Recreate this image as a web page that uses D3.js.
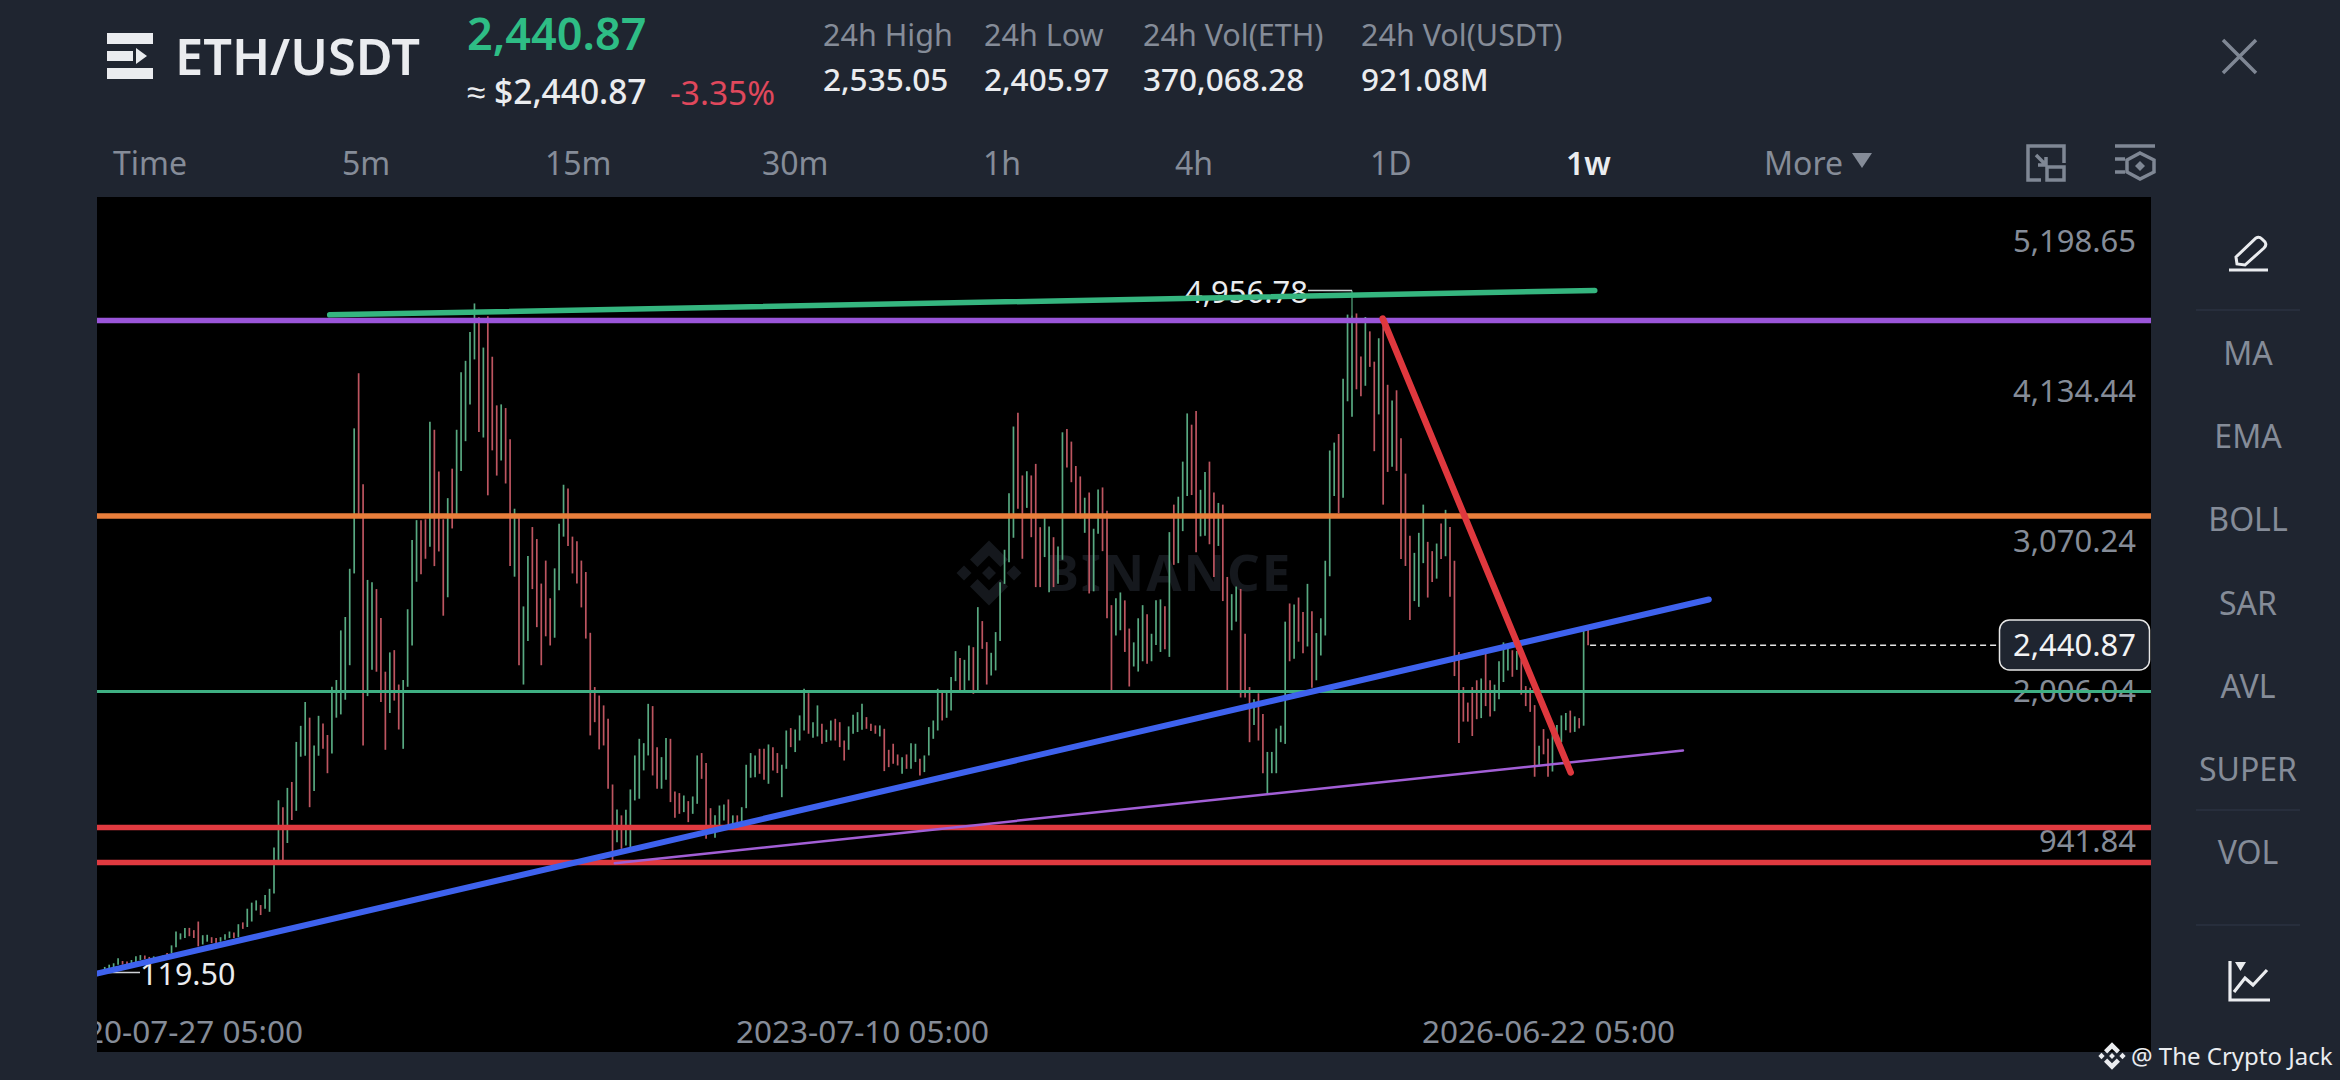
<!DOCTYPE html>
<html>
<head>
<meta charset="utf-8">
<title>ETH/USDT</title>
<script src="https://cdn.jsdelivr.net/npm/d3@7"></script>
<style>
  html, body { margin: 0; padding: 0; background: #1f2530; }
  svg { display: block; }
  text { font-family: "Noto Sans", sans-serif; }
</style>
</head>
<body>
<svg id="chart" width="2340" height="1080"></svg>
<script>
// weekly bars, one entry per week from firstWeek
var firstWeek = '2020-04-06';

var barHighs = [
  159,175,185,221,201,198,208,234,243,240,
  230,234,227,240,257,312,410,397,436,436,
  420,481,384,387,370,364,370,390,410,403,
  462,475,572,615,631,598,670,713,1006,1341,
  1292,1429,1471,1755,1869,2038,1927,1729,1940,1885,
  1804,2146,2194,2546,2641,2983,3979,4370,3582,2904,
  2888,2839,2634,2253,2390,2406,2162,2194,2696,3188,
  3328,3328,3334,4025,3969,3673,3334,3484,3693,3969,
  4377,4458,4663,4865,4767,4552,4774,4487,4142,4149,
  4123,3901,3409,3351,2716,3074,3279,3194,2878,3041,
  2774,2986,3302,3579,3553,3211,3178,3041,2960,2529,
  2144,2084,2014,1919,1453,1276,1234,1274,1418,1659,
  1777,1746,2025,2009,1718,1647,1782,1777,1404,1392,
  1375,1335,1368,1659,1676,1605,1285,1234,1304,1311,
  1347,1234,1234,1292,1593,1676,1659,1706,1706,1737,
  1718,1676,1593,1836,1853,1843,1943,2132,2101,1895,
  2014,1884,1841,1907,1919,1895,1765,1865,1947,1966,
  2025,1931,1884,1872,1872,1848,1699,1742,1666,1647,
  1666,1746,1742,1635,1659,1860,1907,2132,2108,2120,
  2215,2399,2351,2337,2439,2427,2711,2612,2463,2387,
  2534,2888,3118,3519,3992,4089,3645,3675,3645,3727,
  3278,3349,3283,3207,3141,3951,3975,3885,3712,3638,
  3487,3524,3267,3546,3560,3394,2725,2774,2815,2759,
  2559,2461,2632,2725,2661,2522,2759,2766,2718,3243,
  3438,3494,3743,4085,4005,4102,3543,3670,3743,3524,
  3450,3438,2925,2803,2857,2840,2522,2144,2058,2100,
  1953,1684,1684,1850,1870,2608,2737,2730,2779,2676,
  2876,2681,2527,2632,3040,3822,3878,3939,4330,4786,
  4781,4794,4488,4769,4667,4452,4618,4757,4288,4176,
  4249,3909,3658,3218,3096,3238,3438,3174,3108,3162,
  3304,3401,3279,3040,2393,2144,2034,2144,2192,2205,
  2388,2192,2161,2327,2461,2449,2405,2400,2339,2151,
  2139,2016,1728,1846,1777,1814,1875,1943,1960,1977,
  1936,1924,2559,2559
];

var barLows = [
  126,136,142,175,175,175,185,191,208,214,
  208,208,201,214,227,257,299,354,364,377,
  364,305,318,338,328,328,338,351,364,364,
  370,429,442,481,559,527,572,550,680,918,
  918,1038,1201,1266,1650,1657,1292,1406,1657,1706,
  1533,1673,1927,1950,2054,2299,2950,3351,1729,2080,
  2266,2253,2038,1699,1960,2048,1843,1706,2146,2439,
  2891,2944,3054,3139,3002,3106,2650,2781,3269,3367,
  3676,3888,4149,4468,3953,3914,3504,3823,3644,3751,
  3588,3002,2927,2299,2162,2471,2839,2569,2299,2504,
  2439,2494,2830,3211,3145,2950,2878,2709,2488,1801,
  1895,1702,1730,1423,891,1044,997,1021,1009,1340,
  1352,1553,1659,1517,1423,1423,1486,1328,1217,1245,
  1257,1186,1245,1316,1493,1068,1139,1075,1150,1198,
  1163,1163,1174,1174,1285,1501,1505,1529,1486,1458,
  1553,1534,1363,1564,1718,1683,1765,1836,1813,1784,
  1794,1742,1754,1765,1765,1718,1623,1699,1813,1825,
  1841,1848,1832,1813,1794,1548,1576,1600,1588,1529,
  1564,1564,1612,1517,1541,1659,1777,1836,1907,1926,
  1978,2186,2120,2115,2191,2096,2120,2415,2162,2226,
  2262,2470,2876,3030,3203,3408,3054,3415,3207,2853,
  2853,3066,2817,2853,2876,3047,3702,3597,3365,3340,
  3238,2808,2823,3231,3108,2632,2119,2510,2547,2393,
  2148,2290,2254,2327,2310,2327,2442,2393,2412,2358,
  3011,3023,3250,3499,3506,3101,3213,3218,3157,2925,
  3145,2754,2119,2547,2608,2070,2070,1753,1875,1765,
  1533,1386,1533,1533,1753,1741,2327,2344,2466,2383,
  2432,2139,2192,2368,2510,2930,3499,3377,3487,4171,
  4061,4256,4207,4281,4415,3817,4078,3438,3670,3707,
  3677,3052,3003,2620,2754,2713,3023,2779,2889,2913,
  3052,3072,2784,2222,1748,1899,1899,1797,1916,1924,
  2009,1936,1973,2058,2180,2261,2217,2266,2090,2009,
  1968,1508,1582,1667,1508,1545,1753,1753,1838,1821,
  1826,1851,1870,2440.87
];

// u = closed up, d = closed down
var barDirections = [
  'uuuudduuud','duuuduuuud','dduudduuud','uduuuduuuu','duduuuduud',
  'duuuuuuddu','udddudduuu','uddudddudu','uuuududddu','dduduudddd',
  'duuudddddd','ddddduduuu','uuudduuddd','uduuddduuu','duduuuuddu',
  'dduuduuudu','uduuddduuu','uddduddddu','duuduuuudu','uuduududdu',
  'uuuuuddudd','duuduudddd','uduuddduud','duuuduuudu','duuudduudd',
  'udduudddud','duuuuududd','uduuuuuduu','uddudduddu','dddduuuddu',
  'dudddddddu','dduuuududd','ddudduuuud','udud'
].join('');

var priceTicks = [5198.65, 4134.44, 3070.24, 2006.04, 941.84];
var dateTicks = ['2020-07-27', '2023-07-10', '2026-06-22'];
var lastPrice = 2440.87;
var highestPrice = 4956.78;
var highestBar = 280;
var lowestPrice = 119.50;

// horizontal levels drawn on the chart
var levelPrices = [4744, 3357, 2113, 1148, 900];
var levelNames = ['purple', 'orange', 'green', 'red', 'red'];

// trend lines: [bar number, price] at each end
var greenTrend = [[50.5, 4784], [334.5, 4957]];
var blueTrend = [[-1.8, 112], [360.1, 2765]];
var redTrend = [[286.9, 4758], [329.1, 1538]];
var purpleTrend = [[114.5, 895], [354.3, 1694]];

var headerStats = ['24h High', '24h Low', '24h Vol(ETH)', '24h Vol(USDT)'];
var headerValues = ['2,535.05', '2,405.97', '370,068.28', '921.08M'];
var intervals = ['Time', '5m', '15m', '30m', '1h', '4h', '1D', '1w', 'More'];
var indicators = ['MA', 'EMA', 'BOLL', 'SAR', 'AVL', 'SUPER', 'VOL'];

(function () {
  'use strict';

  var PLOT_LEFT = 97, PLOT_RIGHT = 2151, PLOT_TOP = 197, PLOT_BOTTOM = 1052,
      BG = '#1f2530',
      GREY = '#858c98',
      WHITE = '#eaecef',
      UP = '#58a981',
      DOWN = '#bd5560',
      WEEK = 7 * 24 * 3600 * 1000;

  var levelColors = { purple: '#9a55d9', orange: '#e87e3b', green: '#3fb083', red: '#e03a40' },
      levelWidths = { purple: 5.5, orange: 5.5, green: 3, red: 5.5 };

  var parse = d3.utcParse('%Y-%m-%d'),
      fmtAxis = d3.utcFormat('%Y-%m-%d 05:00'),
      fmtPrice = d3.format(',.2f'),
      start = parse(firstWeek);

  function weekDate(i) {
    return new Date(start.getTime() + i * WEEK);
  }

  var x = d3.scaleUtc()
      .domain([parse(dateTicks[0]), parse(dateTicks[2])])
      .range([176, 1548]);

  var y = d3.scaleLinear()
      .domain([lowestPrice, highestPrice])
      .range([972.5, 290.5]);

  var svg = d3.select('#chart');

  svg.append('rect').attr('width', 2340).attr('height', 1080).attr('fill', BG);

  svg.append('defs').append('clipPath').attr('id', 'plot-clip')
    .append('rect')
      .attr('x', PLOT_LEFT).attr('y', PLOT_TOP)
      .attr('width', PLOT_RIGHT - PLOT_LEFT).attr('height', PLOT_BOTTOM - PLOT_TOP);

  svg.append('rect')
    .attr('x', PLOT_LEFT).attr('y', PLOT_TOP)
    .attr('width', PLOT_RIGHT - PLOT_LEFT).attr('height', PLOT_BOTTOM - PLOT_TOP)
    .attr('fill', '#000');

  var plot = svg.append('g').attr('clip-path', 'url(#plot-clip)');

  drawWatermark(plot);

  // bars
  var bars = barHighs.map(function (h, i) {
    return { i: i, high: h, low: barLows[i], up: barDirections[i] === 'u' };
  });

  plot.append('g').selectAll('line')
    .data(bars)
    .enter().append('line')
      .attr('x1', function (d) { return x(weekDate(d.i)); })
      .attr('x2', function (d) { return x(weekDate(d.i)); })
      .attr('y1', function (d) { return y(d.high); })
      .attr('y2', function (d) { return y(d.low); })
      .attr('stroke', function (d) { return d.up ? UP : DOWN; })
      .attr('stroke-width', 1.7);

  // wick of the highest week
  plot.append('line')
    .attr('x1', x(weekDate(highestBar))).attr('x2', x(weekDate(highestBar)))
    .attr('y1', y(highestPrice)).attr('y2', y(barHighs[highestBar]))
    .attr('stroke', UP).attr('stroke-width', 1.2);

  // axes
  var yAxis = d3.axisRight(y)
      .tickValues(priceTicks)
      .tickSize(0)
      .tickFormat(fmtPrice);

  var yG = plot.append('g').attr('transform', 'translate(2136,0)').call(yAxis);
  yG.select('.domain').remove();
  yG.selectAll('text')
    .attr('x', 0).attr('dy', '-0.16em')
    .attr('text-anchor', 'end')
    .attr('fill', GREY)
    .style('font-family', '"Noto Sans", sans-serif')
    .style('font-size', '31px');

  var xAxis = d3.axisBottom(x)
      .tickValues(dateTicks.map(parse))
      .tickSize(0)
      .tickFormat(fmtAxis);

  var xG = plot.append('g').attr('transform', 'translate(0,1013)').call(xAxis);
  xG.select('.domain').remove();
  xG.selectAll('text')
    .attr('y', 0).attr('dy', '0.95em')
    .attr('fill', GREY)
    .style('font-family', '"Noto Sans", sans-serif')
    .style('font-size', '31.5px');

  // high / low markers
  plot.append('path')
    .attr('d', 'M' + (x(weekDate(highestBar)) - 44) + ',' + y(highestPrice) + 'H' + x(weekDate(highestBar)))
    .attr('stroke', '#cfd2d6').attr('stroke-width', 1.5).attr('fill', 'none');
  plot.append('text')
    .attr('x', x(weekDate(highestBar)) - 44).attr('y', y(highestPrice) + 2)
    .attr('dy', '0.35em').attr('text-anchor', 'end')
    .attr('fill', WHITE).attr('font-size', 31)
    .text(fmtPrice(highestPrice));

  plot.append('path')
    .attr('d', 'M' + x(weekDate(0)) + ',' + y(lowestPrice) + 'H140')
    .attr('stroke', '#cfd2d6').attr('stroke-width', 1.5).attr('fill', 'none');
  plot.append('text')
    .attr('x', 140).attr('y', y(lowestPrice) + 2)
    .attr('dy', '0.35em')
    .attr('fill', WHITE).attr('font-size', 30.5)
    .text(lowestPrice.toFixed(2));

  // last price
  plot.append('line')
    .attr('x1', x(weekDate(bars.length - 1)) + 2).attr('x2', 1999)
    .attr('y1', y(lastPrice)).attr('y2', y(lastPrice))
    .attr('stroke', '#e6e6e6').attr('stroke-width', 1.5)
    .attr('stroke-dasharray', '6,4');

  // levels
  plot.append('g').selectAll('line')
    .data(levelPrices)
    .enter().append('line')
      .attr('x1', PLOT_LEFT).attr('x2', PLOT_RIGHT)
      .attr('y1', function (d) { return y(d); })
      .attr('y2', function (d) { return y(d); })
      .attr('stroke', function (d, i) { return levelColors[levelNames[i]]; })
      .attr('stroke-width', function (d, i) { return levelWidths[levelNames[i]]; });

  // trend lines
  var trendLine = d3.line()
      .x(function (d) { return x(weekDate(d[0])); })
      .y(function (d) { return y(d[1]); });

  [
    { pts: greenTrend, color: '#35b57f', width: 5.5 },
    { pts: purpleTrend, color: '#a25fd6', width: 2.5 },
    { pts: blueTrend, color: '#3e62ee', width: 6 },
    { pts: redTrend, color: '#df383e', width: 6.5 }
  ].forEach(function (t) {
    plot.append('path')
      .attr('d', trendLine(t.pts))
      .attr('fill', 'none')
      .attr('stroke', t.color)
      .attr('stroke-width', t.width)
      .attr('stroke-linecap', 'round');
  });

  // last price box
  svg.append('rect')
    .attr('x', 1999.5).attr('y', 620).attr('width', 150).attr('height', 50).attr('rx', 10)
    .attr('fill', BG).attr('stroke', '#e6e6e6').attr('stroke-width', 1.5);
  svg.append('text')
    .attr('x', 2136).attr('y', 645).attr('dy', '0.35em').attr('text-anchor', 'end')
    .attr('fill', '#f2f3f5').attr('font-size', 31)
    .text(fmtPrice(lastPrice));

  drawHeader();
  drawToolbar();
  drawSidebar();
  drawFooter();

  function label(sel, px, py, txt, size, color, weight, anchor) {
    return sel.append('text')
      .attr('x', px).attr('y', py).attr('dy', '0.35em')
      .attr('font-size', size)
      .attr('font-weight', weight || 400)
      .attr('fill', color)
      .attr('text-anchor', anchor || 'start')
      .text(txt);
  }

  function drawHeader() {
    var g = svg.append('g');
    // menu icon
    g.append('path')
      .attr('fill', WHITE)
      .attr('d', 'M107,33h46v11h-46zM107,68h46v11h-46zM107,51h26v10h-26zM136,48l11,8l-11,8z');
    label(g, 175, 57, 'ETH/USDT', 50.5, WHITE, 600);
    label(g, 467, 34, '2,440.87', 45, '#2ebd85', 600);
    label(g, 467, 92, '≈ $2,440.87', 33.5, WHITE, 500);
    label(g, 670, 93, '-3.35%', 33.5, '#e0485c', 400);

    var colX = [823, 984, 1143, 1361];
    headerStats.forEach(function (s, i) {
      label(g, colX[i], 35, s, 30.5, GREY);
      label(g, colX[i], 80, headerValues[i], 31.5, WHITE, 500);
    });

    g.append('path')
      .attr('d', 'M2223,40L2256,73M2256,40L2223,73')
      .attr('stroke', '#7f8794').attr('stroke-width', 3.5).attr('fill', 'none');
  }

  function drawToolbar() {
    var g = svg.append('g'),
        colX = [113, 342, 545, 762, 983, 1175, 1370, 1566, 1764];
    intervals.forEach(function (s, i) {
      label(g, colX[i], 164, s, 32, s === '1w' ? WHITE : GREY, s === '1w' ? 600 : 400);
    });
    g.append('path').attr('d', 'M1852,153h20l-10,15z').attr('fill', GREY);

    g.append('path')
      .attr('fill', 'none').attr('stroke', '#7f8794').attr('stroke-width', 3.5)
      .attr('d', 'M2041,180H2028V146H2064V163M2047,167h17v13h-17zM2036,155l10,10M2046,157v8h-8');
    g.append('path')
      .attr('fill', 'none').attr('stroke', '#7f8794').attr('stroke-width', 3.5)
      .attr('d', 'M2115,146h40M2115,159h10M2115,172h10M2140,153l14,7v12l-14,7l-13,-7v-12z');
    g.append('path').attr('d', 'M2140,161l5,5l-5,5l-5,-5z').attr('fill', '#7f8794');
  }

  function drawSidebar() {
    var g = svg.append('g'),
        rowY = [354, 437, 520, 604, 687, 770, 853];

    indicators.forEach(function (s, i) {
      label(g, 2248, rowY[i], s, 32, GREY, 400, 'middle');
    });

    [310, 810, 925].forEach(function (py) {
      g.append('line').attr('x1', 2196).attr('x2', 2300).attr('y1', py).attr('y2', py)
        .attr('stroke', '#2b3240').attr('stroke-width', 1.5);
    });

    // pencil
    g.append('path')
      .attr('fill', 'none').attr('stroke', WHITE).attr('stroke-width', 3)
      .attr('d', 'M2237,264l-1,-7l20,-19q3,-2 6,1l3,3q2,3 -1,6l-19,17z');
    g.append('line').attr('x1', 2229).attr('x2', 2268).attr('y1', 270).attr('y2', 270)
      .attr('stroke', WHITE).attr('stroke-width', 3);

    // chart button
    g.append('path')
      .attr('fill', 'none').attr('stroke', WHITE).attr('stroke-width', 3.2)
      .attr('d', 'M2230,961V1000H2270M2234,992l11,-14l8,7l14,-15');
    g.append('path').attr('d', 'M2235,962h11l-5.500,9z').attr('fill', WHITE);
  }

  function drawFooter() {
    var g = svg.append('g');
    binanceMark(g, 2112, 1056, 0.21, WHITE);
    label(g, 2131, 1057, '@ The Crypto Jack', 24, WHITE);
  }

  function drawWatermark(parent) {
    var g = parent.append('g');
    binanceMark(g, 989, 573, 0.5, '#15181d');
    g.append('text')
      .attr('x', 1045).attr('y', 573).attr('dy', '0.35em')
      .attr('font-size', 51).attr('font-weight', 700).attr('letter-spacing', 2)
      .attr('fill', '#15181d')
      .text('BINANCE');
  }

  // the five part diamond, drawn around its centre
  function binanceMark(parent, cx, cy, k, color) {
    parent.append('path')
      .attr('transform', 'translate(' + cx + ',' + cy + ') scale(' + k + ')')
      .attr('fill', color)
      .attr('d', 'M0,-14L14,0L0,14L-14,0Z' +
                 'M-65,0L-50,-15L-35,0L-50,15Z' +
                 'M65,0L50,-15L35,0L50,15Z' +
                 'M0,-65L38,-27L23,-12L0,-35L-23,-12L-38,-27Z' +
                 'M0,65L38,27L23,12L0,35L-23,12L-38,27Z');
  }
})();
</script>
</body>
</html>
